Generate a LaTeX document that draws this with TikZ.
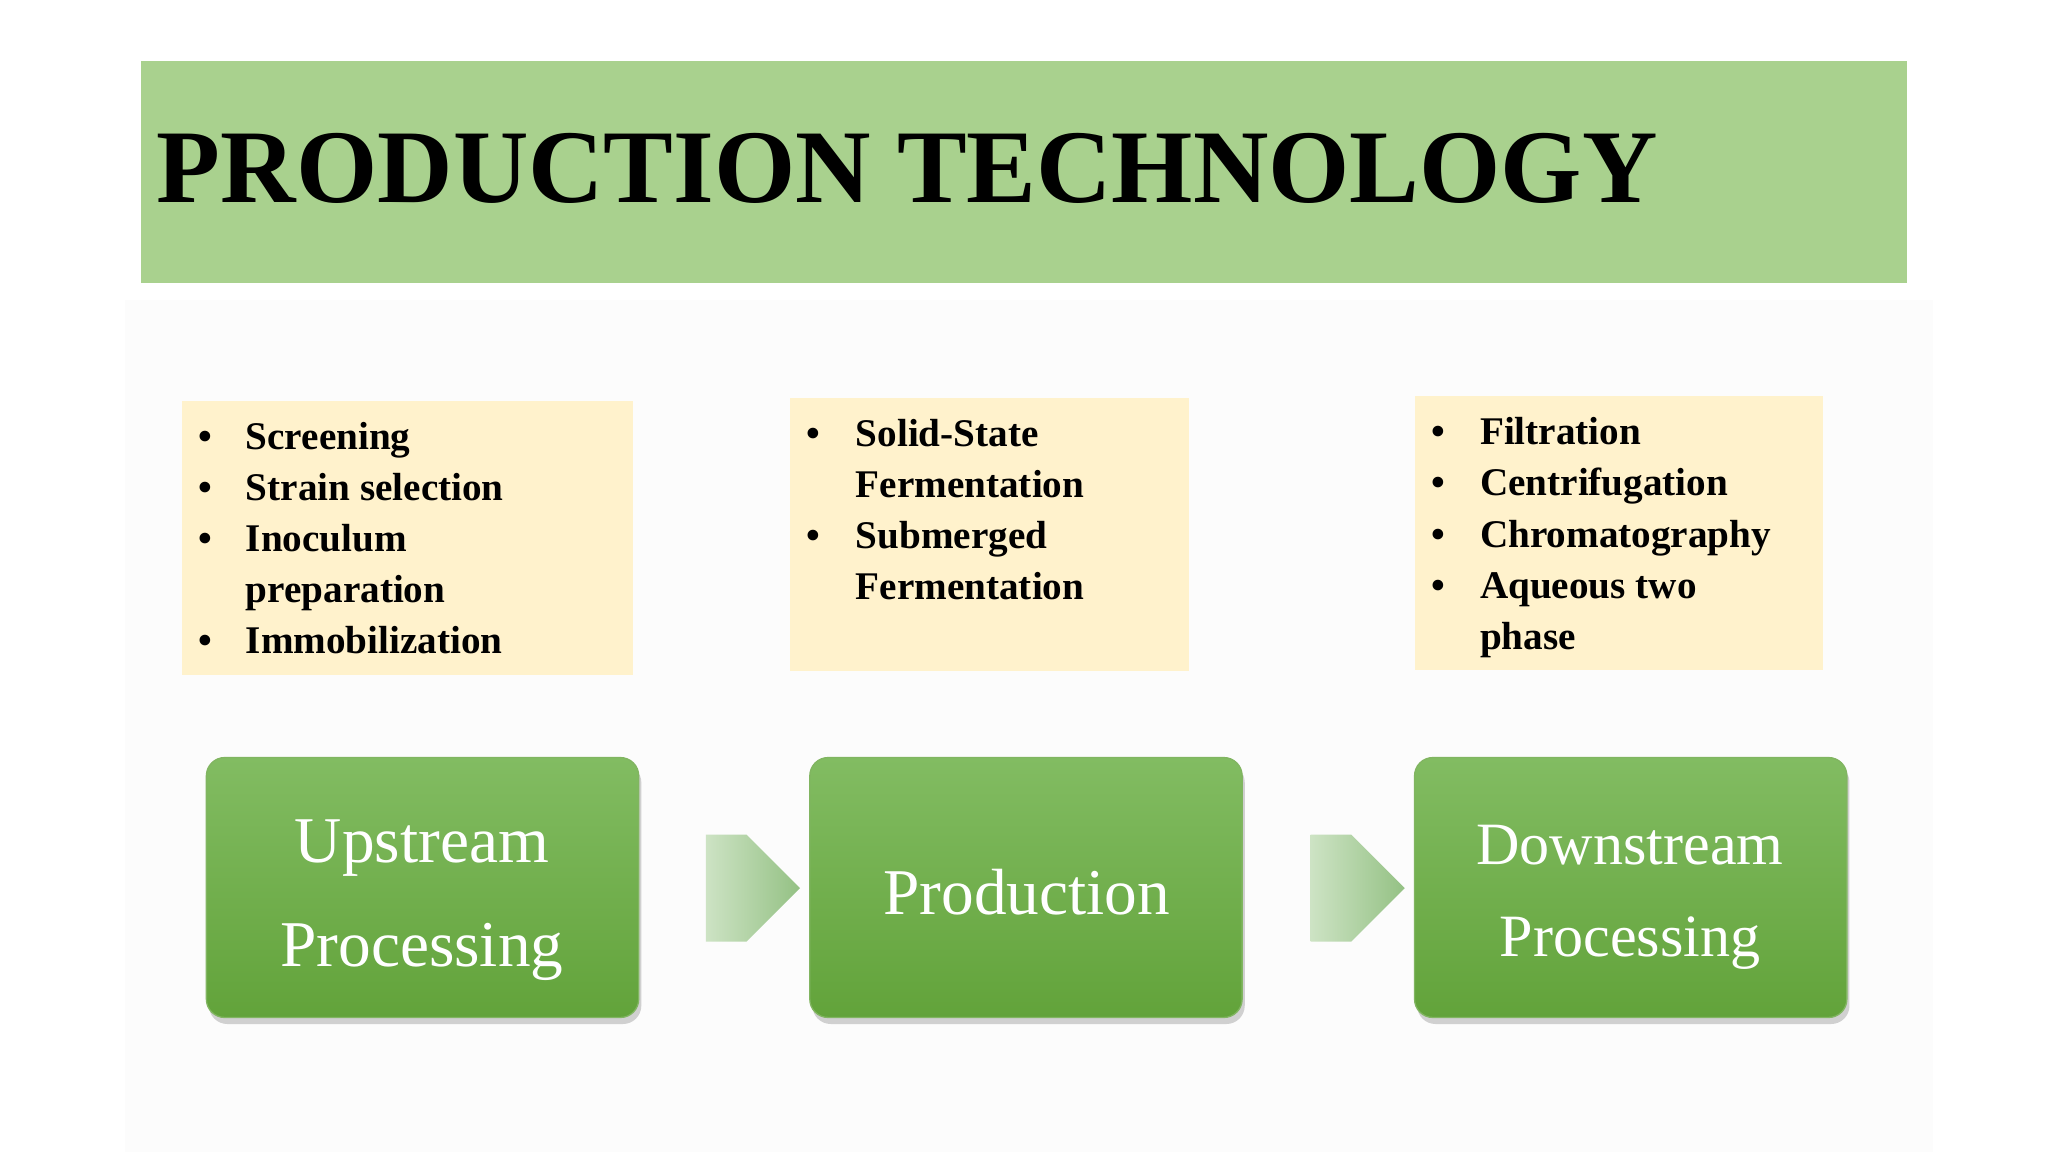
\documentclass[tikz,border=0pt]{standalone}
\usepackage{fontspec}
\setmainfont{Liberation Serif}
\usetikzlibrary{shapes.arrows,shadows}
\definecolor{titlegreen}{HTML}{A9D18E}
\definecolor{pale}{HTML}{FFF2CC}
\definecolor{gtop}{HTML}{82BC62}
\definecolor{gbot}{HTML}{62A33A}
\definecolor{atop}{HTML}{CDE3C4}
\definecolor{abot}{HTML}{94C184}
\tikzset{
 list/.style={anchor=base west,font=\fontsize{30}{36}\selectfont\bfseries,inner sep=0},
 bul/.style={anchor=base,font=\fontsize{30}{36}\selectfont\bfseries,inner sep=0},
 yel/.style={fill=pale,draw=none},
 gbox/.style={rounded corners=14pt,top color=gtop,bottom color=gbot,draw=gbot!80!white,line width=1pt,drop shadow={shadow xshift=2pt,shadow yshift=-5pt,opacity=0.35}},
 btext/.style={text=white,font=\fontsize{50}{60}\selectfont,align=center,inner sep=0},
 arr/.style={single arrow,single arrow head extend=0pt,minimum height=72pt,minimum width=82pt,shape border rotate=0,left color=atop,right color=abot,draw=none,inner sep=0,single arrow tip angle=90}
}
\begin{document}
\begin{tikzpicture}[x=1pt,y=-1pt]
\useasboundingbox (0,0) rectangle (1568,882);
\fill[white] (0,0) rectangle (1568,882);
\fill[black!1] (96,230) rectangle (1480,882);
\fill[titlegreen] (108,47) rectangle (1460,217);
\node[anchor=base west,inner sep=0,font=\fontsize{80}{90}\selectfont\bfseries] (title) at (120,155) {PRODUCTION TECHNOLOGY};
% yellow boxes
\fill[yel] (139,307) rectangle (485,517);
\fill[yel] (605,305) rectangle (910,514);
\fill[yel] (1083,303) rectangle (1396,513);
% list 1
\foreach \y/\t in {344/Screening,383/Strain selection,422/Inoculum,500/Immobilization}{
 \node[bul] at (157,\y) {•}; \node[list] at (188,\y) {\t};}
\node[list] at (188,461) {preparation};
% list 2
\foreach \y/\t in {342/Solid-State,420/Submerged}{
 \node[bul] at (623,\y) {•}; \node[list] at (655,\y) {\t};}
\node[list] at (655,381) {Fermentation};
\node[list] at (655,459) {Fermentation};
% list 3
\foreach \y/\t in {340/Filtration,379/Centrifugation,419/Chromatography,458/Aqueous two}{
 \node[bul] at (1101,\y) {•}; \node[list] at (1133,\y) {\t};}
\node[list] at (1133,497) {phase};
% green boxes
\path[gbox] (158,580) rectangle (489,779);
\path[gbox] (620,580) rectangle (951,779);
\path[gbox] (1083,580) rectangle (1414,779);
\node[btext,anchor=base] (up1) at (323,660) {Upstream};
\node[btext,anchor=base] (up2) at (323,740) {Processing};
\node[btext,anchor=base] (prod) at (786,700) {Production};
\node[btext,anchor=base,font=\fontsize{46}{56}\selectfont] (dn1) at (1248,662) {Downstream};
\node[btext,anchor=base,font=\fontsize{46}{56}\selectfont] (dn2) at (1248,732) {Processing};
% arrows
\node[arr] (a1) at (556,680) {};
\node[arr] (a2) at (1019,680) {};
\end{tikzpicture}
\end{document}
